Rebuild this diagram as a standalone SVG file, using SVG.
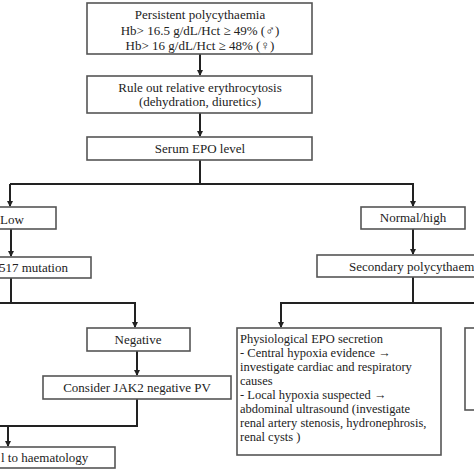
<svg xmlns="http://www.w3.org/2000/svg" width="474" height="474" viewBox="0 0 474 474">
<style>
.box{fill:#fff;stroke:#555;stroke-width:1.6}
.t{font-family:"Liberation Serif","Times New Roman",serif;font-size:13px;fill:#222}
.s{font-size:12.5px}
.c{text-anchor:middle}
.ln{fill:none;stroke:#222;stroke-width:2}
</style>
<defs>
<marker id="ah" markerWidth="6" markerHeight="6" refX="5" refY="3" orient="auto" markerUnits="userSpaceOnUse">
<path d="M0,0 L6,3 L0,6 z" fill="#222"/>
</marker>
</defs>
<rect width="474" height="474" fill="#fff"/>
<g id="connectors">
<path class="ln" d="M200,54 V75" marker-end="url(#ah)"/>
<path class="ln" d="M200,113 V136" marker-end="url(#ah)"/>
<path class="ln" d="M200,160 V184"/>
<path class="ln" d="M10,184 H413 V206" marker-end="url(#ah)"/>
<path class="ln" d="M10,184 V206" marker-end="url(#ah)"/>
<path class="ln" d="M11,229 V256" marker-end="url(#ah)"/>
<path class="ln" d="M11,278 V303"/>
<path class="ln" d="M0,303 H135 V327" marker-end="url(#ah)"/>
<path class="ln" d="M137,351 V375" marker-end="url(#ah)"/>
<path class="ln" d="M137,399 V426 H0"/>
<path class="ln" d="M8,426 V446" marker-end="url(#ah)"/>
<path class="ln" d="M413,229 V254" marker-end="url(#ah)"/>
<path class="ln" d="M413,277 V303"/>
<path class="ln" d="M474,303 H281 V327" marker-end="url(#ah)"/>
</g>
<g id="n-persistent">
<rect class="box" x="87" y="3" width="225" height="51"/>
<text class="t c" x="200" y="19">Persistent polycythaemia</text>
<text class="t c" x="200" y="35">Hb&gt; 16.5 g/dL/Hct ≥ 49% (♂)</text>
<text class="t c" x="200" y="50">Hb&gt; 16 g/dL/Hct ≥ 48% (♀)</text>
</g>
<g id="n-ruleout">
<rect class="box" x="87" y="76" width="225" height="37"/>
<text class="t c" x="200" y="92">Rule out relative erythrocytosis</text>
<text class="t c" x="200" y="106">(dehydration, diuretics)</text>
</g>
<g id="n-serum">
<rect class="box" x="87" y="137" width="225" height="23"/>
<text class="t c" x="200" y="153">Serum EPO level</text>
</g>
<g id="n-low">
<rect class="box" x="-2" y="207" width="58" height="22"/>
<text class="t" x="0" y="224">Low</text>
</g>
<g id="n-jak2">
<rect class="box" x="-2" y="257" width="93" height="21"/>
<text class="t" x="-1" y="272">517 mutation</text>
</g>
<g id="n-negative">
<rect class="box" x="87" y="328" width="103" height="23"/>
<text class="t c" x="138" y="344">Negative</text>
</g>
<g id="n-consider">
<rect class="box" x="43" y="376" width="188" height="23"/>
<text class="t c" x="137" y="392">Consider JAK2 negative PV</text>
</g>
<g id="n-refer">
<rect class="box" x="-2" y="447" width="117" height="21"/>
<text class="t" x="1" y="462">l to haematology</text>
</g>
<g id="n-normal">
<rect class="box" x="361" y="207" width="104" height="22"/>
<text class="t c" x="413" y="222">Normal/high</text>
</g>
<g id="n-secondary">
<rect class="box" x="317" y="255" width="162" height="22"/>
<text class="t" x="349" y="271">Secondary polycythaemia</text>
</g>
<g id="n-physio">
<rect class="box" x="237" y="328" width="204" height="127"/>
<text class="t s" x="240" y="343">Physiological EPO secretion</text>
<text class="t s" x="240" y="357">- Central hypoxia evidence →</text>
<text class="t s" x="240" y="371">investigate cardiac and respiratory</text>
<text class="t s" x="240" y="385">causes</text>
<text class="t s" x="240" y="399">- Local hypoxia suspected →</text>
<text class="t s" x="240" y="413">abdominal ultrasound (investigate</text>
<text class="t s" x="240" y="427">renal artery stenosis, hydronephrosis,</text>
<text class="t s" x="240" y="441">renal cysts )</text>
</g>
<g id="n-right">
<rect class="box" x="465" y="328" width="20" height="82"/>
</g>
</svg>
